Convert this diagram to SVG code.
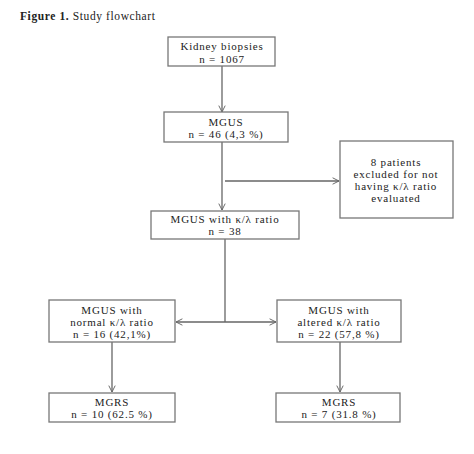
<svg xmlns="http://www.w3.org/2000/svg" width="474" height="454" viewBox="0 0 474 454">
<defs>
<marker id="arr" viewBox="0 0 10 10" refX="9" refY="5" markerWidth="8" markerHeight="8" orient="auto" markerUnits="userSpaceOnUse">
<path d="M1,1 L9,5 L1,9" fill="none" stroke="#666" stroke-width="1.2"/>
</marker>
<style>
.box{fill:#fff;stroke:#777;stroke-width:1.3}
.t{font-family:"Liberation Serif","Times New Roman",serif;font-size:11px;letter-spacing:0.8px;fill:#222;text-anchor:middle}
.c{fill:none;stroke:#666;stroke-width:1.3}
</style>
</defs>
<rect width="474" height="454" fill="#fff"/>
<text x="20" y="20" font-family="Liberation Serif,serif" font-size="11.5" letter-spacing="0.6" fill="#222"><tspan font-weight="bold">Figure 1.</tspan> Study flowchart</text>
<g id="connectors">
<path class="c" d="M222,66 V112" marker-end="url(#arr)"/>
<path class="c" d="M222,142 V210" marker-end="url(#arr)"/>
<path class="c" d="M225,181 H339" marker-end="url(#arr)"/>
<path class="c" d="M225,239 V322"/>
<path class="c" d="M225,322 H176" marker-end="url(#arr)"/>
<path class="c" d="M225,322 H276" marker-end="url(#arr)"/>
<path class="c" d="M112,342 V392" marker-end="url(#arr)"/>
<path class="c" d="M340,342 V392" marker-end="url(#arr)"/>
</g>
<g id="kidney">
<rect class="box" x="168" y="37" width="107" height="29"/>
<text class="t" x="222" y="50">Kidney biopsies</text>
<text class="t" x="222" y="63">n = 1067</text>
</g>
<g id="mgus">
<rect class="box" x="164" y="112" width="124" height="30"/>
<text class="t" x="226" y="126">MGUS</text>
<text class="t" x="226" y="138">n = 46 (4,3 %)</text>
</g>
<g id="excluded">
<rect class="box" x="340" y="141" width="113" height="77"/>
<text class="t" x="396" y="166">8 patients</text>
<text class="t" x="396" y="178">excluded  for not</text>
<text class="t" x="396" y="190">having κ/λ ratio</text>
<text class="t" x="396" y="202">evaluated</text>
</g>
<g id="ratio">
<rect class="box" x="151" y="211" width="148" height="28"/>
<text class="t" x="225" y="223">MGUS  with κ/λ ratio</text>
<text class="t" x="225" y="235">n = 38</text>
</g>
<g id="normal">
<rect class="box" x="49" y="300" width="126" height="42"/>
<text class="t" x="112" y="314">MGUS  with</text>
<text class="t" x="112" y="326">normal  κ/λ ratio</text>
<text class="t" x="112" y="338">n = 16 (42,1%)</text>
</g>
<g id="altered">
<rect class="box" x="277" y="300" width="124" height="42"/>
<text class="t" x="339" y="314">MGUS  with</text>
<text class="t" x="339" y="326">altered  κ/λ ratio</text>
<text class="t" x="339" y="338">n = 22 (57,8 %)</text>
</g>
<g id="mgrs1">
<rect class="box" x="49" y="393" width="126" height="29"/>
<text class="t" x="112" y="406">MGRS</text>
<text class="t" x="112" y="418">n = 10 (62.5 %)</text>
</g>
<g id="mgrs2">
<rect class="box" x="276" y="393" width="124" height="29"/>
<text class="t" x="339" y="406">MGRS</text>
<text class="t" x="339" y="418">n = 7 (31.8 %)</text>
</g>
</svg>
